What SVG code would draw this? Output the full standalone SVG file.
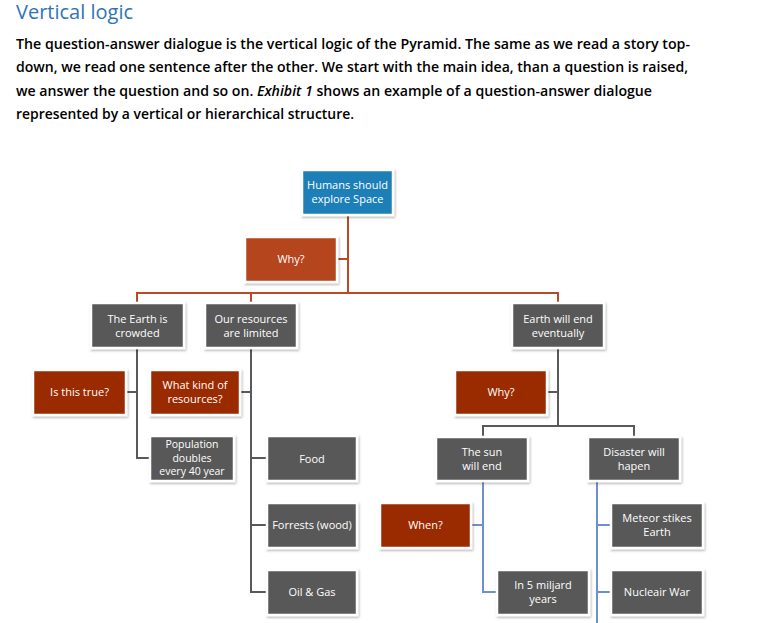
<svg xmlns="http://www.w3.org/2000/svg" width="770" height="623" viewBox="0 0 770 623">
<defs>
<filter id="sh" x="-10%" y="-10%" width="130%" height="130%"><feDropShadow dx="1" dy="1.5" stdDeviation="1.2" flood-color="#000" flood-opacity="0.3"/></filter>
</defs>
<style>
.b{stroke:#fff;stroke-width:2.5;filter:url(#sh)}
.g{fill:#595959}.r{fill:#9a2a00}.o{fill:#b5441f}.u{fill:#1f7fb8}
.t{fill:#fff;font-family:"Open Sans","Liberation Sans",sans-serif;font-size:11px;text-anchor:middle}
.s{font-size:10.5px}
.p{font-family:"Open Sans","Liberation Sans",sans-serif;font-size:14px;font-weight:600;fill:#000}
.cr{stroke:#b84a28;stroke-width:2;fill:none}
.cg{stroke:#595959;stroke-width:2;fill:none}
.cb{stroke:#6f8fd0;stroke-width:2;fill:none}
</style>
<rect width="770" height="623" fill="#fff"/>
<text x="16" y="19" font-family="'Open Sans','Liberation Sans',sans-serif" font-size="20" fill="#2e74b5">Vertical logic</text>
<text class="p" x="16" y="49" textLength="674" lengthAdjust="spacingAndGlyphs">The question-answer dialogue is the vertical logic of the Pyramid.  The same as we read a story top-</text>
<text class="p" x="16" y="72" textLength="672" lengthAdjust="spacingAndGlyphs">down, we read one sentence after the other. We start with the main idea, than a question is raised,</text>
<text class="p" x="16" y="96" textLength="636" lengthAdjust="spacingAndGlyphs">we answer the question and so on.  <tspan font-style="italic">Exhibit 1</tspan> shows an example of a question-answer dialogue</text>
<text class="p" x="16" y="119" textLength="338" lengthAdjust="spacingAndGlyphs">represented by a vertical or hierarchical structure.</text>
<g id="connectors">
<path class="cr" d="M348 215V293M337 259H348M137 303V293H558V303M251 293V303"/>
<path class="cg" d="M137 348V458H150M126 392H137M251 348V592H267M240 392H251M251 458H267M251 525H267M558 348V426M547 392H558M483 437V426H634V437"/>
<path class="cb" d="M483 481V592H497M471 525H483M597 481V623M597 525H611M597 592H611"/>
</g>
<g id="n1"><rect class="b u" x="302" y="170" width="91" height="45"/><text class="t" x="347.5" y="189">Humans should</text><text class="t" x="347.5" y="203">explore Space</text></g>
<g id="n2"><rect class="b o" x="245" y="237" width="92" height="45"/><text class="t" x="291" y="263">Why?</text></g>
<g id="n3"><rect class="b g" x="91" y="303" width="93" height="45"/><text class="t" x="137.5" y="323">The Earth is</text><text class="t" x="137.5" y="337">crowded</text></g>
<g id="n4"><rect class="b g" x="205" y="303" width="92" height="45"/><text class="t" x="251" y="323">Our resources</text><text class="t" x="251" y="337">are limited</text></g>
<g id="n5"><rect class="b g" x="512" y="303" width="92" height="45"/><text class="t" x="558" y="323">Earth will end</text><text class="t" x="558" y="337">eventually</text></g>
<g id="n6"><rect class="b r" x="33" y="370" width="93" height="45"/><text class="t" x="79.5" y="396">Is this true?</text></g>
<g id="n7"><rect class="b r" x="150" y="370" width="90" height="45"/><text class="t" x="195" y="389">What kind of</text><text class="t" x="195" y="403">resources?</text></g>
<g id="n8"><rect class="b r" x="455" y="370" width="92" height="45"/><text class="t" x="501" y="396">Why?</text></g>
<g id="n9"><rect class="b g" x="150" y="436" width="84" height="45"/><text class="t s" x="192" y="448">Population</text><text class="t s" x="192" y="461.5">doubles</text><text class="t s" x="192" y="475">every 40 year</text></g>
<g id="n10"><rect class="b g" x="267" y="436" width="90" height="45"/><text class="t" x="312" y="463">Food</text></g>
<g id="n11"><rect class="b g" x="267" y="503" width="90" height="45"/><text class="t" x="312" y="529">Forrests (wood)</text></g>
<g id="n12"><rect class="b g" x="267" y="570" width="90" height="45"/><text class="t" x="312" y="596">Oil &amp; Gas</text></g>
<g id="n13"><rect class="b g" x="436" y="437" width="92" height="44"/><text class="t" x="482" y="456">The sun</text><text class="t" x="482" y="470">will end</text></g>
<g id="n14"><rect class="b g" x="588" y="437" width="92" height="44"/><text class="t" x="634" y="456">Disaster will</text><text class="t" x="634" y="470">hapen</text></g>
<g id="n15"><rect class="b r" x="380" y="503" width="91" height="45"/><text class="t" x="425.5" y="529">When?</text></g>
<g id="n16"><rect class="b g" x="611" y="503" width="92" height="45"/><text class="t" x="657" y="522">Meteor stikes</text><text class="t" x="657" y="536">Earth</text></g>
<g id="n17"><rect class="b g" x="497" y="570" width="92" height="45"/><text class="t" x="543" y="589">In 5 miljard</text><text class="t" x="543" y="603">years</text></g>
<g id="n18"><rect class="b g" x="611" y="570" width="92" height="45"/><text class="t" x="657" y="596">Nucleair War</text></g>
</svg>
